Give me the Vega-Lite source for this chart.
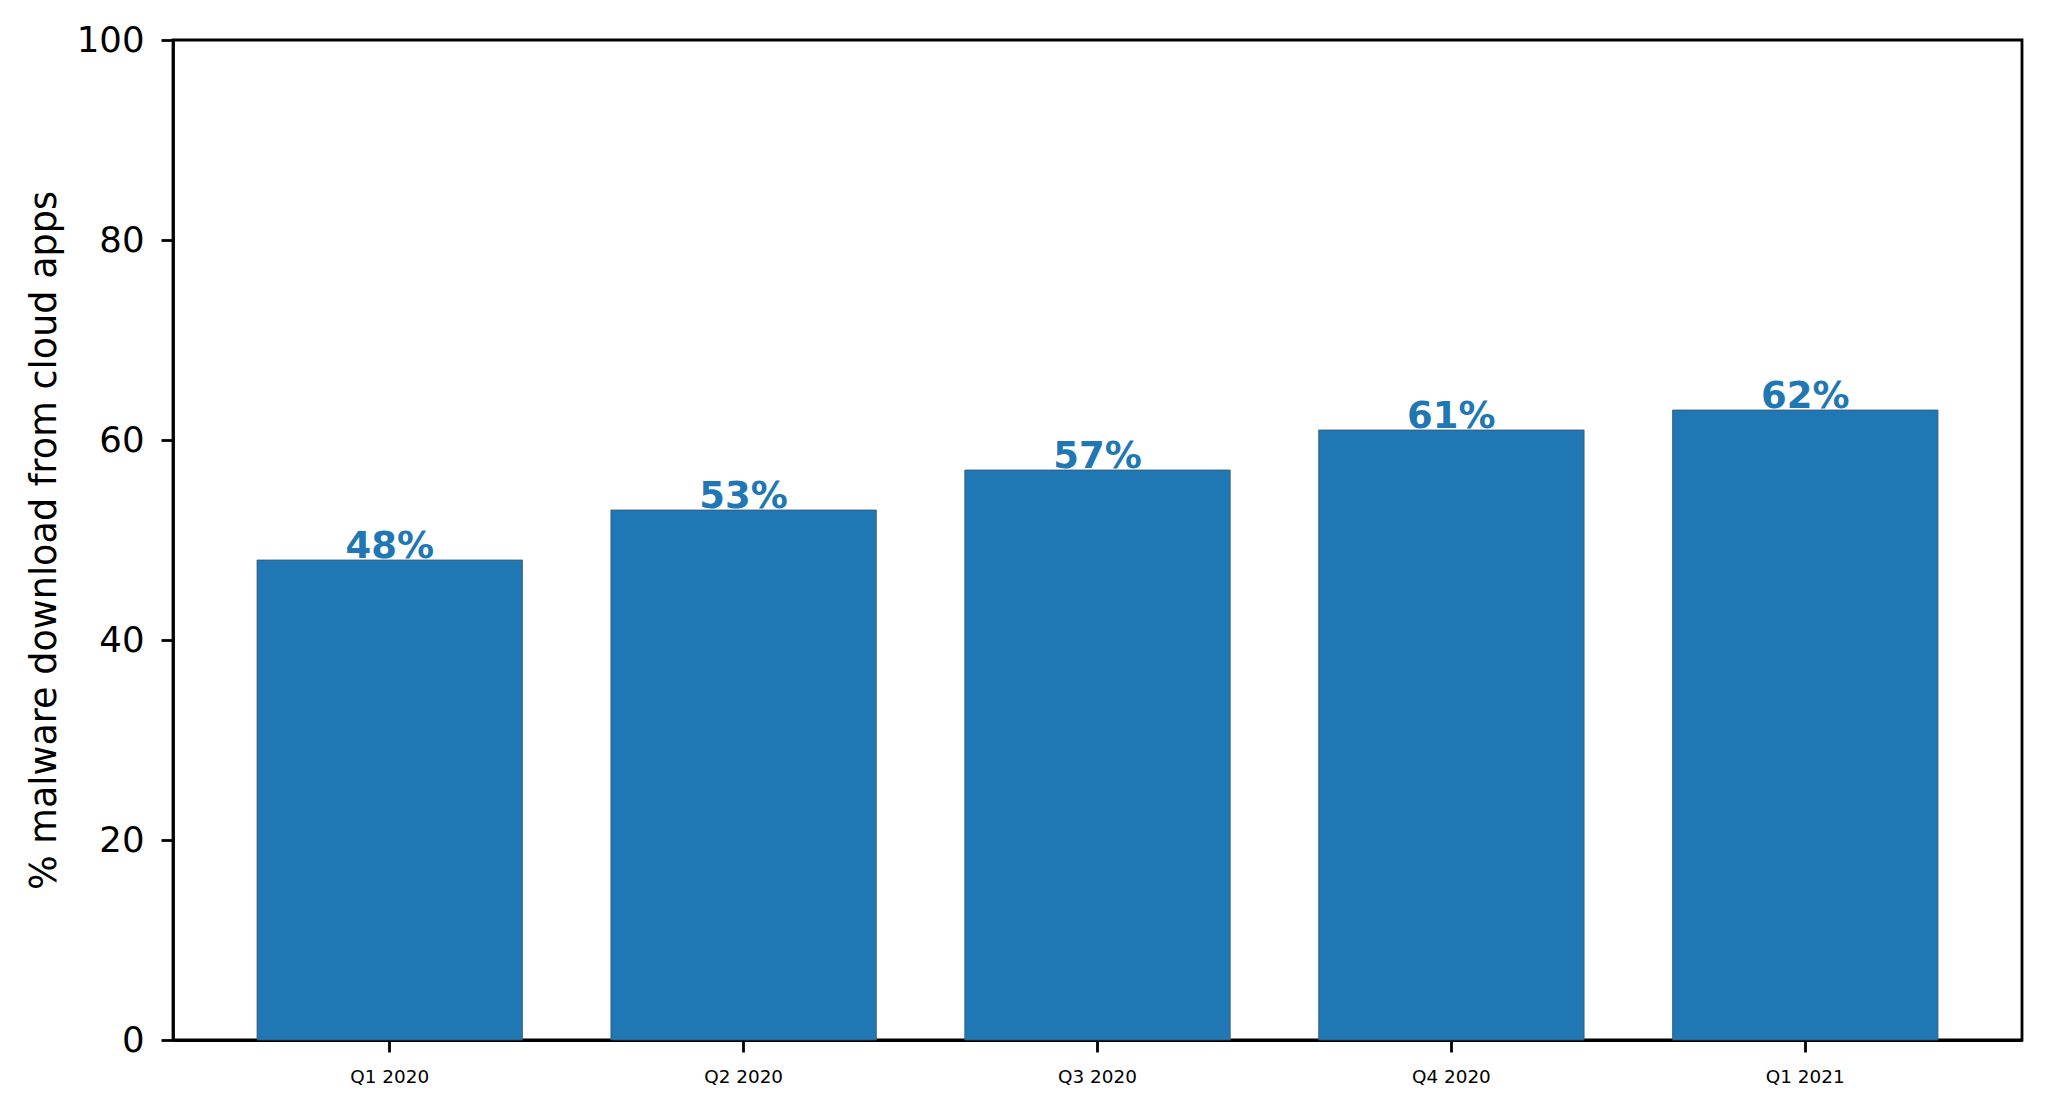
{
  "$schema": "https://vega.github.io/schema/vega-lite/v6.json",
  "autosize": {"type": "none"},
  "padding": {"left": 173, "top": 40, "right": 26, "bottom": 71},
  "width": 1849,
  "height": 1000,
  "background": "white",
  "config": {
    "view": {"stroke": "black", "strokeWidth": 2.8},
    "font": "DejaVu Sans"
  },
  "data": {
    "values": [
      {"quarter": "Q1 2020", "value": 48, "label": "48%"},
      {"quarter": "Q2 2020", "value": 53, "label": "53%"},
      {"quarter": "Q3 2020", "value": 57, "label": "57%"},
      {"quarter": "Q4 2020", "value": 61, "label": "61%"},
      {"quarter": "Q1 2021", "value": 63, "label": "62%"}
    ]
  },
  "encoding": {
    "x": {
      "field": "quarter",
      "type": "nominal",
      "sort": null,
      "scale": {"paddingInner": 0.25, "paddingOuter": 0.2375},
      "axis": {
        "title": null,
        "labelAngle": 0,
        "labelFont": "DejaVu Sans",
        "labelFontSize": 18.4,
        "labelColor": "black",
        "labelPadding": 15,
        "tickSize": 12,
        "tickWidth": 2.8,
        "tickColor": "black",
        "domainColor": "black",
        "domainWidth": 2.8,
        "grid": false
      }
    }
  },
  "layer": [
    {
      "mark": {"type": "bar", "color": "#1f77b4", "stroke": "#3b5670", "strokeWidth": 0.8},
      "encoding": {
        "y": {
          "field": "value",
          "type": "quantitative",
          "scale": {"domain": [0, 100], "nice": false},
          "axis": {
            "title": "% malware download from cloud apps",
            "titleFont": "DejaVu Sans",
            "titleFontSize": 36.6,
            "titleFontWeight": "normal",
            "titleColor": "black",
            "titlePadding": 13,
            "values": [0, 20, 40, 60, 80, 100],
            "labelFont": "DejaVu Sans",
            "labelFontSize": 35.5,
            "labelColor": "black",
            "labelPadding": 17,
            "tickSize": 12,
            "tickWidth": 2.8,
            "tickColor": "black",
            "domainColor": "black",
            "domainWidth": 2.8,
            "grid": false
          }
        }
      }
    },
    {
      "mark": {
        "type": "text",
        "color": "#1f77b4",
        "fontWeight": "bold",
        "fontSize": 37,
        "font": "DejaVu Sans",
        "baseline": "alphabetic",
        "align": "center",
        "dy": -2
      },
      "encoding": {
        "y": {"field": "value", "type": "quantitative"},
        "text": {"field": "label"}
      }
    }
  ]
}
